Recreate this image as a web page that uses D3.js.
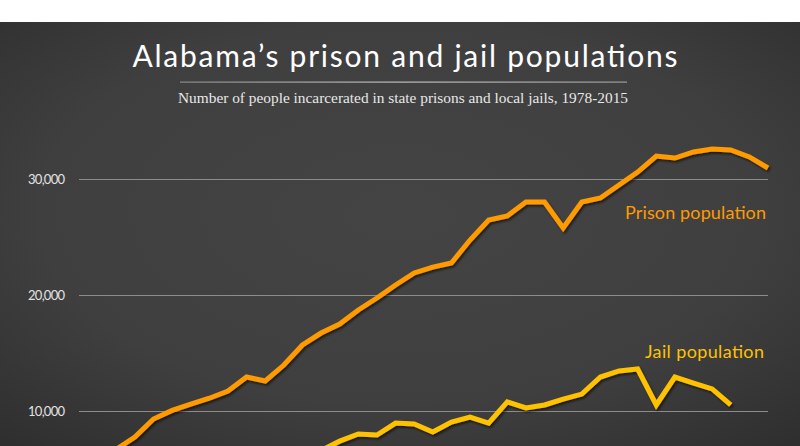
<!DOCTYPE html>
<html>
<head>
<meta charset="utf-8">
<script src="https://cdn.jsdelivr.net/npm/d3@7"></script>
<style>
  html, body { margin: 0; padding: 0; background: #fff; overflow: hidden; }
  svg { display: block; }
</style>
</head>
<body>
<div id="chart"></div>
<script>
const years = [1978, 1979, 1980, 1981, 1982, 1983, 1984, 1985, 1986, 1987,
  1988, 1989, 1990, 1991, 1992, 1993, 1994, 1995, 1996, 1997, 1998, 1999,
  2000, 2001, 2002, 2003, 2004, 2005, 2006, 2007, 2008, 2009, 2010, 2011,
  2012, 2013, 2014, 2015];

const prison = [5400, 6000, 6700, 7760, 9310, 10050, 10600, 11100, 11720, 12930,
  12590, 13960, 15690, 16720, 17500, 18710, 19740, 20860, 21900, 22410, 22760, 24740,
  26470, 26810, 28020, 28020, 25770, 28020, 28360, 29480, 30600, 31980, 31810, 32330,
  32580, 32500, 31900, 30950];

// jail series stops at 2013
const jail = [3300, 3600, 3800, 3900, 4200, 4400, 4500, 4900, 5200, 5400,
  5700, 6000, 6300, 6600, 7400, 8020, 7930, 8960, 8880, 8190, 9050, 9480,
  8960, 10780, 10260, 10520, 11030, 11460, 12930, 13450, 13620, 10520, 12930, 12410,
  11900, 10520];

// the 0 line sits below the visible area
const yTicks = [10000, 20000, 30000];

const W = 800, H = 446;
const svg = d3.select('#chart')
  .append('svg')
    .attr('width', W)
    .attr('height', H);

const defs = svg.append('defs');

const bg = defs.append('radialGradient')
    .attr('id', 'bg')
    .attr('cx', '50%').attr('cy', '45%')
    .attr('r', '75%');
bg.append('stop').attr('offset', '0%').attr('stop-color', '#444444');
bg.append('stop').attr('offset', '60%').attr('stop-color', '#3f3f3f');
bg.append('stop').attr('offset', '100%').attr('stop-color', '#2e2e2e');

const rule = defs.append('linearGradient').attr('id', 'rule');
rule.append('stop').attr('offset', '0%').attr('stop-color', '#8a8a8a');
rule.append('stop').attr('offset', '50%').attr('stop-color', '#bdbdbd');
rule.append('stop').attr('offset', '100%').attr('stop-color', '#9a9a9a');

defs.append('filter')
    .attr('id', 'shadow')
    .attr('x', '-10%').attr('y', '-10%')
    .attr('width', '120%').attr('height', '130%')
  .append('feDropShadow')
    .attr('dx', 1.5)
    .attr('dy', 2)
    .attr('stdDeviation', 1.2)
    .attr('flood-color', '#000')
    .attr('flood-opacity', 0.55);

svg.append('rect')
    .attr('y', 22)
    .attr('width', W)
    .attr('height', H - 22)
    .attr('fill', 'url(#bg)');

svg.append('text')
    .attr('x', 405)
    .attr('y', 67)
    .attr('text-anchor', 'middle')
    .attr('fill', '#fff')
    .attr('font-family', 'Lato, sans-serif')
    .attr('font-size', '30px')
    .attr('textLength', 545)
    .attr('lengthAdjust', 'spacing')
    .text('Alabama\u2019s prison and jail populations');

svg.append('rect')
    .attr('x', 180)
    .attr('y', 81.5)
    .attr('width', 447)
    .attr('height', 1.2)
    .attr('fill', 'url(#rule)');

svg.append('text')
    .attr('x', 403)
    .attr('y', 103)
    .attr('text-anchor', 'middle')
    .attr('fill', '#e8e8e8')
    .attr('font-family', '"Liberation Serif", serif')
    .attr('font-size', '14px')
    .attr('textLength', 450)
    .attr('lengthAdjust', 'spacingAndGlyphs')
    .text('Number of people incarcerated in state prisons and local jails, 1978-2015');

const x = d3.scaleLinear()
    .domain([1978, 2015])
    .range([79, 768]);

const y = d3.scaleLinear()
    .domain([0, 30000])
    .range([527, 179]);

const grid = svg.append('g')
    .attr('transform', 'translate(79,0)')
    .call(d3.axisLeft(y)
      .tickValues(yTicks)
      .tickSize(-(768 - 79))
      .tickPadding(14)
      .tickFormat(d3.format(',')));

grid.select('.domain').remove();
grid.selectAll('.tick line')
    .attr('stroke', '#8c8c8c')
    .attr('stroke-width', 1);
grid.selectAll('.tick text')
    .attr('fill', '#e2e2e2')
    .attr('font-family', 'Lato, sans-serif')
    .attr('font-size', '13px')
    .attr('textLength', 37)
    .attr('lengthAdjust', 'spacing');

const line = d3.line()
    .x(d => x(d[0]))
    .y(d => y(d[1]));

const series = [
  { name: 'Prison population', values: prison, color: '#ff9a00', at: 26500, len: 141, end: 766 },
  { name: 'Jail population', values: jail, color: '#ffc200', at: 14500, len: 119, end: 764 }
];

svg.selectAll('.series')
    .data(series)
  .join('path')
    .attr('class', 'series')
    .attr('d', d => line(d.values.map((v, i) => [years[i], v])))
    .attr('fill', 'none')
    .attr('stroke', d => d.color)
    .attr('stroke-width', 5)
    .attr('stroke-linejoin', 'miter')
    .attr('filter', 'url(#shadow)');

// labels near the right end
svg.selectAll('.label')
    .data(series)
  .join('text')
    .attr('class', 'label')
    .attr('x', d => d.end)
    .attr('y', d => y(d.at) - 1)
    .attr('text-anchor', 'end')
    .attr('fill', d => d.color)
    .attr('font-family', 'Lato, sans-serif')
    .attr('font-size', '18px')
    .attr('textLength', d => d.len)
    .attr('lengthAdjust', 'spacing')
    .text(d => d.name);
</script>
</body>
</html>
